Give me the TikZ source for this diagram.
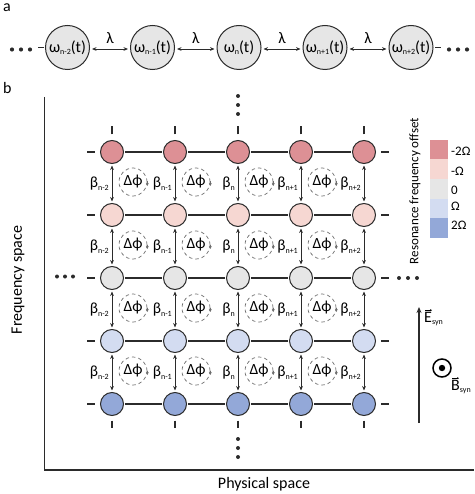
\documentclass[tikz,border=0pt]{standalone}
\usepackage{fontspec}
\setmainfont{Carlito}
\usetikzlibrary{arrows.meta,calc}
\definecolor{cmtwo}{HTML}{DD9095}
\definecolor{cmone}{HTML}{F6D7D2}
\definecolor{czero}{HTML}{E6E6E6}
\definecolor{cpone}{HTML}{D3DCF1}
\definecolor{cptwo}{HTML}{93A8D8}
\definecolor{edge}{HTML}{2B2B2B}
\definecolor{dgray}{HTML}{6E6E6E}
\newcommand\sbs[1]{\raisebox{-0.35ex}{\fontsize{8}{8}\selectfont #1}}
\begin{document}
\begin{tikzpicture}[x=1pt,y=-1pt,
  acirc/.style={circle,draw=edge,line width=1pt,fill=czero,minimum size=44pt,inner sep=0pt,font=\fontsize{16}{16}\selectfont},
  gcirc/.style={circle,draw=edge,line width=1pt,minimum size=23pt,inner sep=0pt},
  hline/.style={draw=edge,line width=1.2pt},
  darrow/.style={draw=edge,line width=0.9pt,{Stealth[length=4.5pt,width=3.8pt]}-{Stealth[length=4.5pt,width=3.8pt]}},
  dcirc/.style={circle,draw=dgray,dash pattern=on 3.5pt off 3pt,line width=0.7pt,minimum size=28pt,inner sep=0pt,font=\fontsize{15.5}{15.5}\selectfont},
  blabel/.style={font=\fontsize{15.5}{15.5}\selectfont,inner sep=1pt},
  dotm/.style={fill=edge},
  txt/.style={font=\fontsize{16}{16}\selectfont}
]
\useasboundingbox (0,0) rectangle (474,494);
% ---------- panel a ----------
\node[font=\fontsize{16}{16}\selectfont,anchor=base west,inner sep=0pt] (la) at (3,12) {a};
\node[acirc] (a1) at (67.5,47.5) {ω\sbs{n-2}(t)};
\node[acirc] (a2) at (152.5,47.5) {ω\sbs{n-1}(t)};
\node[acirc] (a3) at (239,47.5) {ω\sbs{n}(t)};
\node[acirc] (a4) at (325,47.5) {ω\sbs{n+1}(t)};
\node[acirc] (a5) at (411,47.5) {ω\sbs{n+2}(t)};
\foreach \i [evaluate=\i as \j using int(\i+1)] in {1,...,4}
  \draw[darrow] ([shift={(2,1.5)}]a\i.east) -- ([shift={(-2,1.5)}]a\j.west)
    node[midway,above=1.5pt,txt] {λ};
\draw[hline] ([xshift=-1.5pt]a1.west) -- ([xshift=-7pt]a1.west);
\draw[hline] ([xshift=1.5pt]a5.east) -- ([xshift=7pt]a5.east);
\foreach \x in {12,21,30} \fill[dotm] (\x,49.5) circle (2.1);
\foreach \x in {449,458,467} \fill[dotm] (\x,49.5) circle (2.1);
% ---------- panel b ----------
\node[font=\fontsize{16}{16}\selectfont,anchor=base west,inner sep=0pt] (lb) at (3,94) {b};
\draw[edge,line width=1.7pt] (44.5,97) -- (44.5,470) -- (474,470);
\node[txt,rotate=90] (fs) at (18,280) {Frequency space};
\node[txt] (ps) at (264,484) {Physical space};
% grid circles
\foreach \r/\col in {1/cmtwo,2/cmone,3/czero,4/cpone,5/cptwo}
  \foreach \c in {1,...,5}
    \node[gcirc,fill=\col] (g\r\c) at ({112+63*(\c-1)},{152+63*(\r-1)}) {};
% horizontal links and side stubs
\foreach \r in {1,...,5}{
  \foreach \c [evaluate=\c as \cn using int(\c+1)] in {1,...,4}
    \draw[hline,shorten <=1pt,shorten >=1pt] (g\r\c) -- (g\r\cn);
  \draw[hline] ([xshift=-5.5pt]g\r1.west) -- ([xshift=-13pt]g\r1.west);
  \draw[hline] ([xshift=5pt]g\r5.east) -- ([xshift=12.5pt]g\r5.east);
}
% top / bottom stubs
\foreach \c in {1,...,5}{
  \draw[hline] ([yshift=5.5pt]g1\c.north) -- ([yshift=13.5pt]g1\c.north);
  \draw[hline] ([yshift=-4.5pt]g5\c.south) -- ([yshift=-12pt]g5\c.south);
}
% ellipses
\foreach \y in {96,105,114} \fill[dotm] (238,\y) circle (2);
\foreach \y in {439,448,457} \fill[dotm] (238,\y) circle (2);
\foreach \x in {57,65,73} \fill[dotm] (\x,276.5) circle (2);
\foreach \x in {399,408,417} \fill[dotm] (\x,278) circle (2);
% vertical couplings, beta labels, flux circles
\foreach \r [evaluate=\r as \rn using int(\r+1)] in {1,...,4}{
  \foreach \c/\s in {1/n-2,2/n-1,3/n,4/n+1,5/n+2}{
    \draw[darrow,shorten <=1.5pt,shorten >=1.5pt] (g\r\c) -- (g\rn\c);
    \node[blabel,anchor=east] (b\r\c) at ($(g\r\c)!0.5!(g\rn\c)+(-2,0)$) {β\sbs{\s}};
  }
  \foreach \c in {1,...,4}{
    \node[dcirc] (d\r\c) at ($(g\r\c)!0.5!(g\rn\c)+(21,-1.5)$) {Δϕ};
    \draw[dgray,line width=0.7pt,-{Stealth[length=3pt,width=3pt]}] ([shift={(0,-0.5)}]d\r\c.east) -- ([shift={(0,4)}]d\r\c.east);
  }
}
% legend
\node[font=\fontsize{13}{13}\selectfont,rotate=90] (leg) at (415,191) {Resonance frequency offset};
\foreach \i/\col/\lab/\ly in {0/cmtwo/-2Ω/151,1/cmone/-Ω/171,2/czero/0/190,3/cpone/Ω/206,4/cptwo/2Ω/225}{
  \fill[\col] (430,{140+19.5*\i}) rectangle (448,{140+19.5*(\i+1)});
  \node[font=\fontsize{13}{13}\selectfont,anchor=west,inner sep=0pt] (l\i) at (451,\ly) {\lab};
}
% synthetic fields
\coordinate (e0) at (419,423);
\coordinate (e1) at (419,307);
\draw[edge,line width=1.6pt,-{Stealth[length=6pt,width=5pt]}] (e0) -- (e1);
\node[txt,anchor=west,inner sep=0pt] (el) at (424,319) {E\sbs{syn}};
\draw[black,line width=0.6pt,-{Stealth[length=2pt,width=2pt]}] ([shift={(1,-1.5)}]el.north west) -- ([shift={(8,-1.5)}]el.north west);
\node[circle,draw=black,line width=1.5pt,minimum size=18pt,inner sep=0pt] (bc) at (442,368) {};
\fill[black] (bc.center) circle (3.2);
\node[txt,anchor=west,inner sep=0pt] (bl) at (451,387) {B\sbs{syn}};
\draw[black,line width=0.6pt,-{Stealth[length=2pt,width=2pt]}] ([shift={(1,-1.5)}]bl.north west) -- ([shift={(8,-1.5)}]bl.north west);
\end{tikzpicture}
\end{document}
